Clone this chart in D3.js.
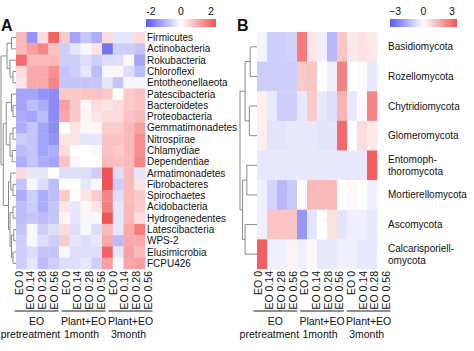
<!DOCTYPE html>
<html>
<head>
<meta charset="utf-8">
<script src="https://cdn.jsdelivr.net/npm/d3@7"></script>
<style>
  body { margin: 0; background: #fff; }
  text { font-family: Arial, "Liberation Sans", sans-serif; fill: #111; }
</style>
</head>
<body>
<div id="chart"></div>
<script>
// data
const columns = ["EO 0", "EO 0.14", "EO 0.28", "EO 0.56",
                 "EO 0", "EO 0.14", "EO 0.28", "EO 0.56",
                 "EO 0", "EO 0.14", "EO 0.28", "EO 0.56"];
const groupsTop = ["EO", "Plant+EO", "Plant+EO"];
const groupsBottom = ["pretreatment", "1month", "3month"];

const bacteria = ["Firmicutes", "Actinobacteria", "Rokubacteria", "Chloroflexi", "Entotheonellaeota",
  "Patescibacteria", "Bacteroidetes", "Proteobacteria", "Gemmatimonadetes", "Nitrospirae",
  "Chlamydiae", "Dependentiae", "Armatimonadetes", "Fibrobacteres", "Spirochaetes",
  "Acidobacteria", "Hydrogenedentes", "Latescibacteria", "WPS-2", "Elusimicrobia", "FCPU426"];

const bacteriaValues = [
  [0.8, -1.3, 0.4, 1.8, 0.6, -1.1, -0.7, -1.0, 0.4, -0.3, -0.3, 0.4],
  [0.8, 1.1, 1.4, 0.7, -0.6, -0.3, -0.1, 0.3, -1.7, -0.6, -0.6, -0.7],
  [1.7, 0.8, 0.8, 0.8, -0.6, -0.6, -0.4, -0.6, -0.4, -0.4, 0.1, -1.1],
  [0.4, 1.0, 1.0, 1.3, -0.7, -0.6, -0.3, -0.8, -0.1, 0.1, -0.4, -0.8],
  [0.3, 1.0, 1.0, 1.4, -0.7, -0.7, -0.7, -0.7, -0.3, -0.7, -0.1, -0.1],
  [-1.1, -1.1, -1.3, -1.4, 0.6, 0.6, 0.7, 0.7, 0.6, 0.0, 0.6, 0.7],
  [-1.1, -0.8, -1.0, -1.4, 1.1, 0.6, 0.1, 0.4, 0.3, 0.4, 0.6, 0.7],
  [-1.0, -1.1, -0.8, -1.4, 1.0, 0.6, 0.1, 0.3, 0.4, 0.4, 0.7, 0.8],
  [-1.0, -0.7, -1.1, -1.4, 0.0, 0.3, 0.1, 0.1, 0.6, 0.6, 0.8, 1.1],
  [-0.6, -0.7, -1.1, -1.3, 0.3, 0.3, -0.3, -0.3, 0.7, 0.7, 0.8, 1.3],
  [-0.8, -0.7, -1.1, -1.0, 0.4, 0.0, 0.0, -0.1, 0.7, 0.6, 0.8, 1.3],
  [-1.0, -0.7, -1.0, -1.1, 0.7, -0.1, 0.0, 0.0, 0.8, 0.7, 0.8, 1.4],
  [0.4, -0.3, -0.3, 0.0, -0.4, -0.4, -0.4, -0.6, 2.0, -0.4, 0.8, -0.3],
  [-0.7, -0.1, -0.4, -0.8, 0.0, 0.0, -0.3, -0.1, 2.1, -0.6, 0.8, 0.3],
  [-1.0, -0.6, -1.0, -0.8, 0.6, 0.0, 0.3, 0.6, 1.4, -0.4, 0.8, 0.6],
  [-0.8, -0.6, -1.0, -0.7, 0.3, -0.3, 0.1, 0.3, 1.5, -0.3, 0.8, 0.6],
  [-0.8, -0.7, -0.8, -0.7, 0.1, -0.3, -0.1, -0.1, 2.0, -0.3, 0.8, 0.4],
  [-0.7, -0.1, -0.6, -0.4, 0.4, -0.4, -0.1, -0.4, 0.8, -0.3, 1.0, 1.5],
  [-0.6, -0.1, -0.4, -0.6, 0.6, -0.3, -0.4, -0.3, 1.0, -0.8, 1.0, 1.0],
  [-0.6, -0.4, -0.7, -0.7, -0.1, -0.4, -0.4, -0.4, 1.8, -0.3, 1.1, 0.8],
  [-0.6, -0.3, -0.8, -0.6, -0.4, -0.4, -0.3, -0.6, 1.1, -0.1, 1.0, 1.1]
];

const fungi = ["Basidiomycota", "Rozellomycota", "Chytridiomycota", "Glomeromycota",
  "Entomoph-\nthoromycota", "Mortierellomycota", "Ascomycota", "Calcarisporiell-\nomycota"];

const fungiValues = [
  [-0.2, -0.9, -0.9, -0.8, 2.3, 0.4, -0.3, -1.3, 1.0, 0.4, 0.5, 0.4],
  [-0.9, -0.9, -0.9, -0.9, 0.9, 1.0, 0.0, -0.3, 2.2, 0.0, -0.1, -0.4],
  [0.3, -0.4, -0.9, -0.9, -0.4, 0.9, -0.4, -0.6, 1.3, -0.4, -0.1, 2.1],
  [0.3, -0.5, -0.5, -0.4, -0.4, -0.4, -0.5, -0.5, 2.6, 0.0, 0.6, 0.4],
  [-0.4, -0.4, -0.4, -0.4, -0.4, -0.4, -0.4, -0.4, -0.4, -0.4, -0.4, 2.8],
  [-0.3, -0.8, -1.3, -1.0, 0.1, 1.2, 1.2, 1.2, 0.0, 0.1, 0.0, -0.3],
  [-0.3, 1.0, 1.0, 1.0, -1.9, -0.5, 0.0, 0.5, -0.5, -0.3, -0.3, -0.4],
  [2.8, -0.3, -0.3, 0.2, -0.3, 0.1, -0.4, -0.4, -0.3, -0.3, -0.4, -0.4]
];

const bacteriaTicks = ["-2", "0", "2"];
const fungiTicks = ["\u22123", "0", "3"];

// row clustering (leaf = row index, h = merge height)
const bacteriaTree = {h: 10, c: [
  {h: 6, c: [{h: 3, c: [0, 1]}, {h: 4, c: [2, {h: 2, c: [3, 4]}]}]},
  {h: 8.5, c: [
    {h: 6.5, c: [{h: 3, c: [5, {h: 2, c: [6, 7]}]}, {h: 4, c: [{h: 2, c: [8, 9]}, {h: 2.5, c: [10, 11]}]}]},
    {h: 5, c: [{h: 3.5, c: [12, {h: 2, c: [13, 14]}]}, {h: 4, c: [{h: 2, c: [15, 16]}, {h: 3, c: [{h: 1.5, c: [17, 18]}, {h: 2, c: [19, 20]}]}]}]}
  ]}
]};

const fungiTree = {h: 10, c: [
  {h: 7, c: [{h: 4, c: [0, 1]}, {h: 4.5, c: [2, 3]}]},
  {h: 8.5, c: [{h: 6, c: [4, 5]}, {h: 7, c: [6, 7]}]}
]};

const svg = d3.select("#chart").append("svg")
  .attr("width", 474)
  .attr("height", 351);

const defs = svg.append("defs");

function drawTree(g, node, y, hx) {
  if (typeof node === "number") return {x: hx(0), y: y(node) + y.bandwidth() / 2};
  const a = drawTree(g, node.c[0], y, hx);
  const b = drawTree(g, node.c[1], y, hx);
  const nx = hx(node.h);
  g.append("path")
    .attr("d", `M${a.x},${a.y}H${nx}V${b.y}H${b.x}`)
    .attr("fill", "none")
    .attr("stroke", "#8a8a8a")
    .attr("stroke-width", 1);
  return {x: nx, y: (a.y + b.y) / 2};
}

function panel(o) {
  const g = svg.append("g");

  const x = d3.scaleBand().domain(d3.range(columns.length)).range([o.left, o.right]);
  const y = d3.scaleBand().domain(d3.range(o.rows.length)).range([o.top, o.bottom]);
  const color = d3.scaleLinear()
    .domain([-o.max, 0, o.max])
    .range(["#5a5af2", "#ffffff", "#f25252"])
    .clamp(true);

  const cells = [];
  o.values.forEach((row, i) => row.forEach((v, j) => cells.push({i, j, v})));

  g.selectAll("rect.cell")
    .data(cells)
    .enter()
    .append("rect")
      .attr("class", "cell")
      .attr("x", d => x(d.j))
      .attr("y", d => y(d.i))
      .attr("width", x.bandwidth() + 0.3)
      .attr("height", y.bandwidth() + 0.3)
      .attr("fill", d => color(d.v));

  // row labels (some split over two lines)
  g.selectAll("text.row")
    .data(o.rows)
    .enter()
    .append("text")
      .attr("class", "row")
      .attr("font-size", "10px")
      .each(function(d, i) {
        const lines = d.split("\n");
        const cy = y(i) + y.bandwidth() / 2;
        lines.forEach((line, k) => {
          d3.select(this).append("tspan")
            .attr("x", o.labelX)
            .attr("y", cy + (k - (lines.length - 1) / 2) * 12)
            .attr("dy", "0.35em")
            .text(line);
        });
      });

  // column labels sit on a slightly wider band than the cells
  const xl = d3.scaleBand().domain(d3.range(columns.length)).range(o.labelRange);
  g.selectAll("text.col")
    .data(columns)
    .enter()
    .append("text")
      .attr("class", "col")
      .attr("font-size", "10.5px")
      .attr("text-anchor", "end")
      .attr("transform", (d, j) => `translate(${xl(j) + xl.bandwidth() / 2 + 3.8},${o.bottom + 2}) rotate(-90)`)
      .text(d => d);

  // treatment groups
  groupsTop.forEach((t, k) => {
    const gx0 = xl(k * 4), gx1 = xl(k * 4 + 3) + xl.bandwidth();
    g.append("line")
      .attr("x1", gx0 + 1.5).attr("x2", gx1 - 1.5)
      .attr("y1", 311).attr("y2", 311)
      .attr("stroke", "#222").attr("stroke-width", 1.2);
    g.append("text")
      .attr("x", (gx0 + gx1) / 2).attr("y", 325)
      .attr("text-anchor", "middle").attr("font-size", "10.5px")
      .text(t);
    g.append("text")
      .attr("x", (gx0 + gx1) / 2 + (k === 0 ? -6 : -2)).attr("y", 338)
      .attr("text-anchor", "middle").attr("font-size", "10.5px")
      .text(groupsBottom[k]);
  });

  // colour key
  const gid = "grad" + o.id;
  const grad = defs.append("linearGradient").attr("id", gid);
  d3.range(0, 1.001, 0.1).forEach(t => {
    grad.append("stop")
      .attr("offset", t)
      .attr("stop-color", color(-o.max + 2 * o.max * t));
  });
  g.append("rect")
    .attr("x", o.key[0]).attr("y", 19)
    .attr("width", o.key[1] - o.key[0]).attr("height", 8)
    .attr("fill", `url(#${gid})`);
  const k = d3.scalePoint().domain(o.ticks).range(o.keyTicks);
  g.selectAll("text.key")
    .data(o.ticks)
    .enter()
    .append("text")
      .attr("class", "key")
      .attr("x", d => k(d))
      .attr("y", 15)
      .attr("text-anchor", "middle")
      .attr("font-size", "10.5px")
      .text(d => d);

  // dendrogram
  const hx = d3.scaleLinear().domain([0, 10]).range([o.left, o.left - o.treeWidth]);
  drawTree(g.append("g"), o.tree, y, hx);

  // panel letter
  g.append("text")
    .attr("x", o.letterX).attr("y", 31)
    .attr("font-size", "16px").attr("font-weight", "bold")
    .text(o.id);
}

panel({
  id: "A", rows: bacteria, values: bacteriaValues, max: 2, ticks: bacteriaTicks,
  left: 16, right: 145, top: 32, bottom: 269,
  labelX: 147, labelRange: [13, 154],
  key: [146, 216], keyTicks: [151, 211],
  tree: bacteriaTree, treeWidth: 15, letterX: 1
});

panel({
  id: "B", rows: fungi, values: fungiValues, max: 3, ticks: fungiTicks,
  left: 257, right: 377, top: 32, bottom: 269,
  labelX: 388, labelRange: [252, 392],
  key: [390, 457], keyTicks: [395, 452],
  tree: fungiTree, treeWidth: 17, letterX: 237
});
</script>
</body>
</html>
